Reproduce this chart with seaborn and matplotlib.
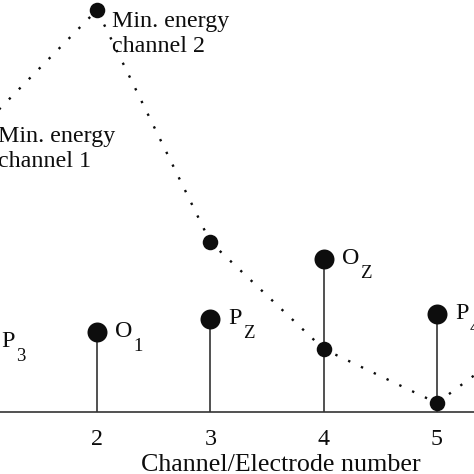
import numpy as np
import pandas as pd
import matplotlib
matplotlib.use("Agg")
import matplotlib.pyplot as plt
import seaborn as sns

# channel / electrode data (energy in arbitrary units)
channels = [1, 2, 3, 4, 5]
electrode_letters = ["P", "O", "P", "O", "P"]
electrode_subs = ["3", "1", "Z", "Z", "4"]
electrode_energy = [0.70, 0.80, 0.93, 1.53, 0.98]

min_channels = [1, 2, 3, 4, 5, 6]
min_energy = [2.87, 4.02, 1.70, 0.63, 0.09, 0.93]

tick_values = [2, 3, 4, 5]

sns.set_theme(style="white")
plt.rcParams["font.family"] = ["Liberation Serif", "DejaVu Serif"]

fig = plt.figure(figsize=(4.74, 4.74), dpi=100)
ax = fig.add_axes([0, 62 / 474, 1, 412 / 474])

ink = "#0d0d0d"

# stems
ax.vlines(channels, 0, electrode_energy, color="#333333", lw=1.2, zorder=2)

# dotted min energy curve
df_min = pd.DataFrame({"ch": min_channels, "e": min_energy})
sns.lineplot(data=df_min, x="ch", y="e", ax=ax, color=ink, lw=1.7,
             linestyle=(0, (1, 5.0)), clip_on=False, zorder=1)
sns.scatterplot(data=df_min, x="ch", y="e", ax=ax, color=ink, s=125,
                linewidth=0, clip_on=False, zorder=3)

# electrode markers
df_el = pd.DataFrame({"ch": channels, "e": electrode_energy})
sns.scatterplot(data=df_el, x="ch", y="e", ax=ax, color=ink, s=207,
                linewidth=0, clip_on=False, zorder=3)

for c, letter, sub, e in zip(channels, electrode_letters, electrode_subs, electrode_energy):
    t = ax.annotate(letter, (c, e), xytext=(13, -3.6), textcoords="offset points",
                    ha="left", va="baseline", fontsize=17.3, color=ink,
                    annotation_clip=False)
    ax.annotate(sub, xy=(1, 0), xycoords=t, xytext=(0.5, 3),
                textcoords="offset points", ha="left", va="top",
                fontsize=13.5, color=ink, annotation_clip=False)

for c in [1, 2]:
    ax.annotate("Min. energy\nchannel %d" % c, (c, min_energy[c - 1]),
                xytext=(10.5, -1), textcoords="offset points", ha="left",
                va="top", fontsize=17.3, color=ink, linespacing=1.2,
                annotation_clip=False)

ax.set_xticks(tick_values)
ax.set_xlim(1.144, 5.327)
ax.set_ylim(0, 4.12)
ax.set_yticks([])
ax.tick_params(axis="x", length=0, pad=12, labelsize=17.3, labelcolor=ink)
ax.set_xlabel("Channel/Electrode number", fontsize=18.7, color=ink)
ax.xaxis.set_label_coords(0.593, -0.102)

for side in ["left", "right", "top"]:
    ax.spines[side].set_visible(False)
ax.spines["bottom"].set_color("#333333")
ax.spines["bottom"].set_linewidth(1.2)

fig.savefig("out.png", dpi=100)
